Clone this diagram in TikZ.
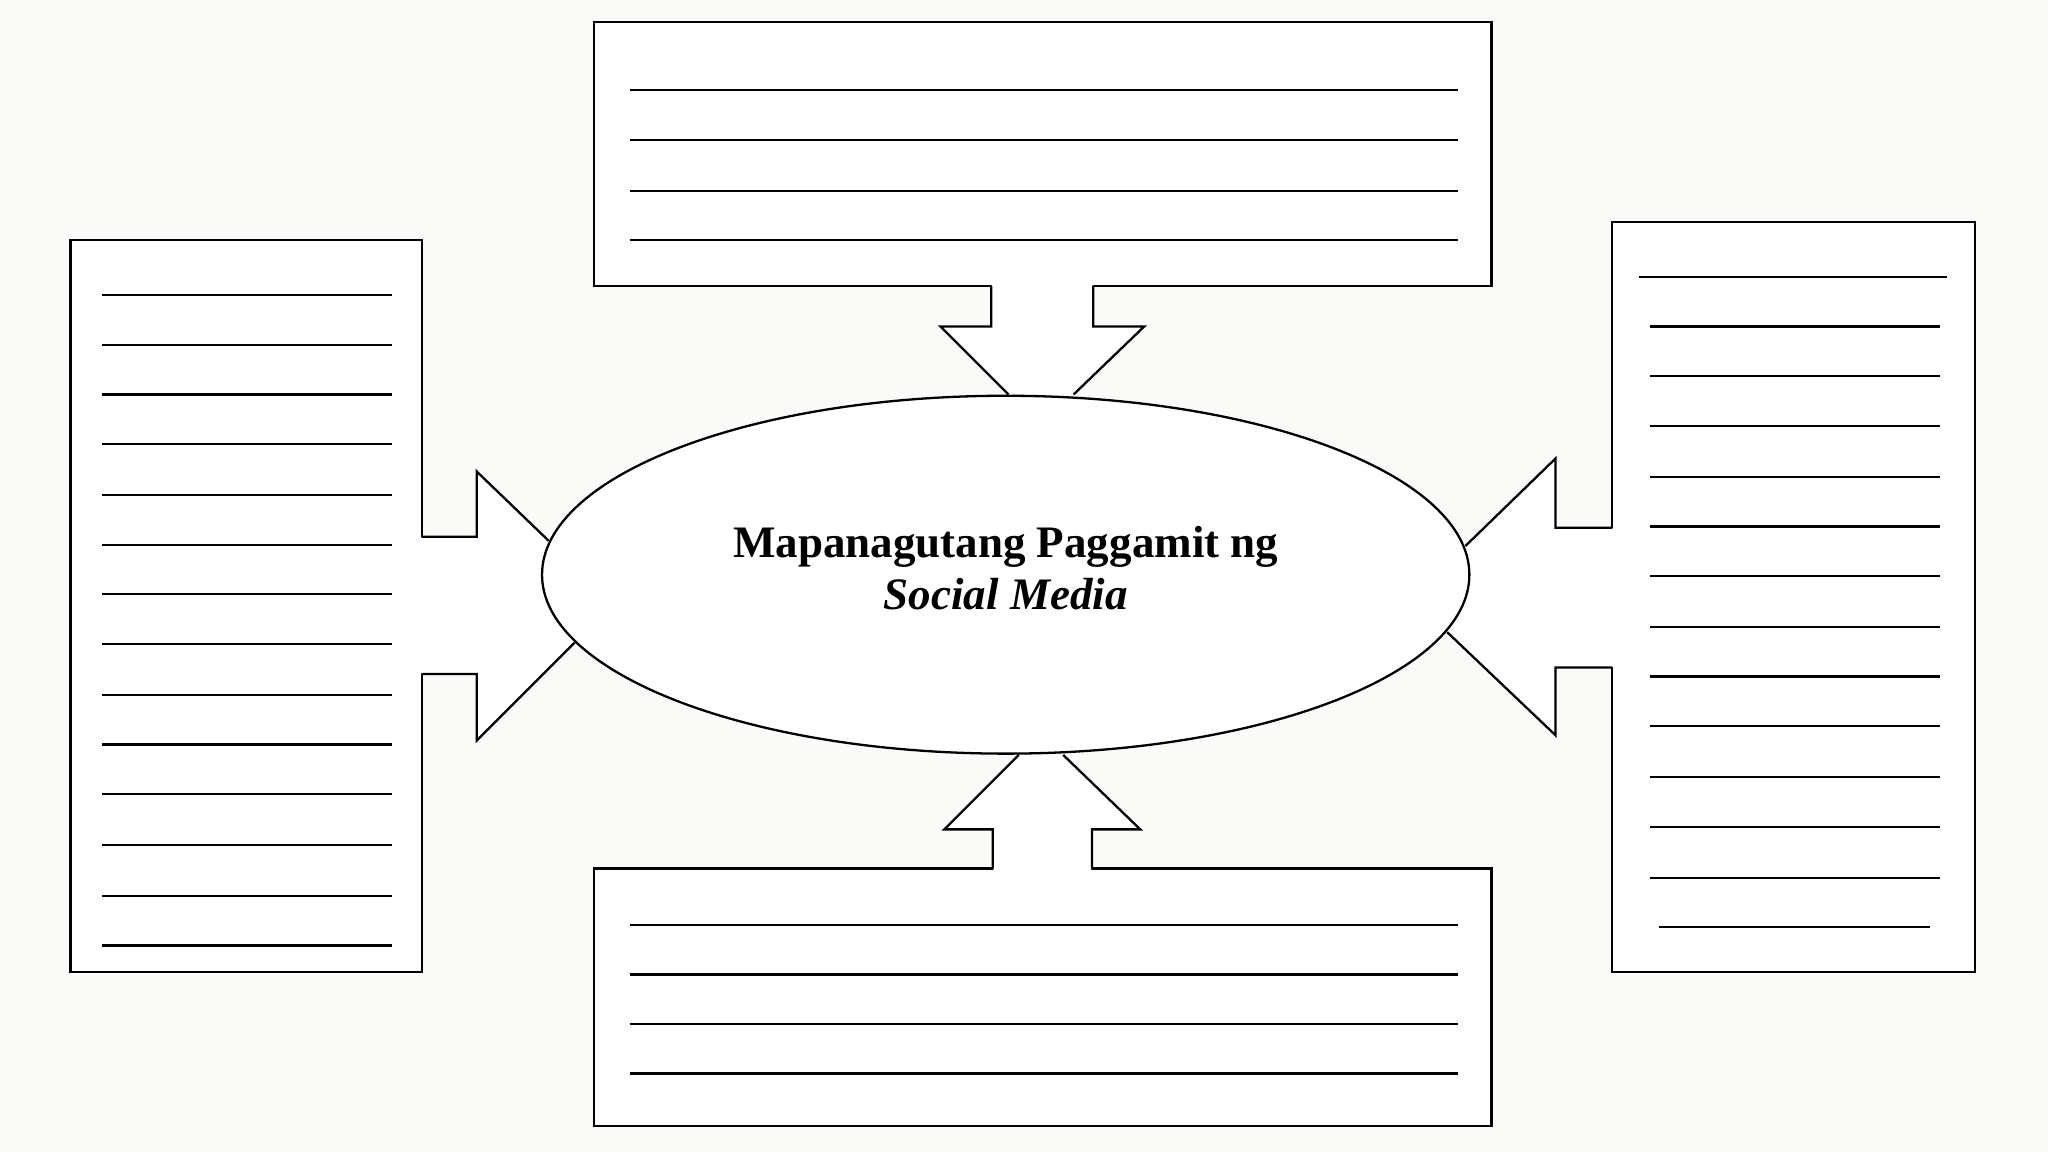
\documentclass[tikz,border=0pt]{standalone}
\usepackage{fontspec}
\setmainfont{Liberation Serif}
\usetikzlibrary{shapes.geometric}
\definecolor{bg}{HTML}{FAFBF8}
\begin{document}
\begin{tikzpicture}[x=0.01cm,y=-0.01cm,line width=0.5pt,
  box/.style={draw,fill=white},
  rule/.style={line width=0.5pt}]
\fill[bg] (0,0) rectangle (1568,882);
\useasboundingbox (0,0) rectangle (1568,882);
% boxes
\draw[box] (455,17) rectangle (1142,219);
\foreach \y in {69,107,146,184} \draw[rule] (482,\y)--(1116,\y);
\draw[box] (455,665) rectangle (1142,862);
\foreach \y in {708,746,784,822} \draw[rule] (482,\y)--(1116,\y);
\draw[box] (54,184) rectangle (323,744);
\foreach \y in {226,264,302,340,379,417,455,493,532,570,608,647,686,724} \draw[rule] (78,\y)--(300,\y);
\draw[box] (1234,170) rectangle (1512,744);
\draw[rule] (1255,212)--(1491,212);
\foreach \y in {250,288,326,365,403,441,480,518,556,595,633,672} \draw[rule] (1263,\y)--(1485,\y);
\draw[rule] (1270,710)--(1478,710);
% arrows: white fill covering box edge, then open outline
\fill[white] (759.5,216)--(759,250)--(720,250)--(772,302)--(822,302)--(876,250)--(837,250)--(836.5,216)--cycle;
\draw (759,219)--(759,250)--(720,250)--(772,302) (822,302)--(876,250)--(837,250)--(837,219);
\fill[white] (760.5,668)--(760,635)--(723,635)--(780,578)--(814,578)--(873,635)--(836,635)--(835.5,668)--cycle;
\draw (760,665)--(760,635)--(723,635)--(780,578) (814,578)--(873,635)--(836,635)--(836,665);
\fill[white] (320,411.5)--(365,411)--(365,361)--(420,414)--(440,492)--(365,567)--(365,516)--(320,515.5)--cycle;
\draw (323,411)--(365,411)--(365,361)--(420,414) (440,492)--(365,567)--(365,516)--(323,516);
\fill[white] (1237,404.5)--(1191,404)--(1191,351)--(1122,418)--(1108,484)--(1191,563)--(1191,511)--(1237,510.5)--cycle;
\draw (1234,404)--(1191,404)--(1191,351)--(1122,418) (1108,484)--(1191,563)--(1191,511)--(1234,511);
% ellipse
\draw[fill=white] (770,440) ellipse [x radius=355, y radius=137];
\node (t) at (770,435) [align=center,font=\fontsize{9.8pt}{11.4pt}\selectfont\bfseries]
  {Mapanagutang Paggamit ng\\ \textit{Social Media}};
\end{tikzpicture}
\end{document}
